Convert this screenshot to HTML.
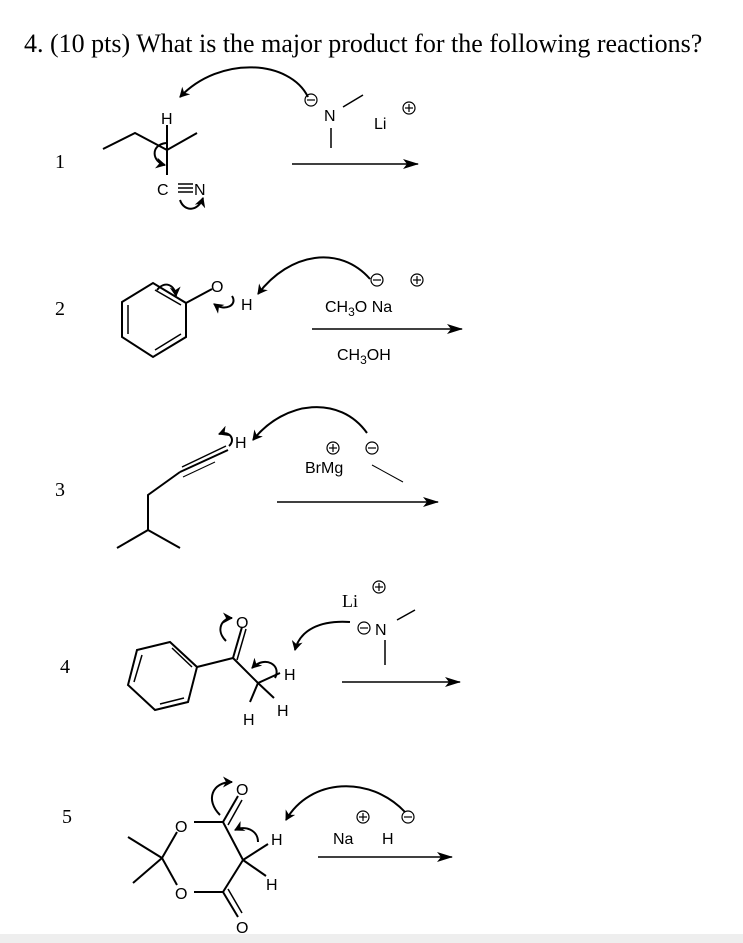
<!DOCTYPE html>
<html><head><meta charset="utf-8"><style>
html,body{margin:0;padding:0;background:#fff;}
svg{display:block;}
.s{font-family:"Liberation Sans",sans-serif;font-size:16px;}
.r{font-family:"Liberation Serif",serif;}
</style></head><body>
<svg width="743" height="943" viewBox="0 0 743 943" xmlns="http://www.w3.org/2000/svg">
<defs>
<marker id="ah" markerWidth="16" markerHeight="10" refX="15" refY="5" orient="auto" markerUnits="userSpaceOnUse">
<path d="M0,0 L16,5 L0,10 L4,5 Z" fill="#000"/></marker>
<marker id="ch" markerWidth="11" markerHeight="11" refX="9" refY="5.5" orient="auto" markerUnits="userSpaceOnUse">
<path d="M0,0 L10,5.5 L0,11 L3,5.5 Z" fill="#000"/></marker>
</defs>
<rect x="0" y="934" width="743" height="9" fill="#eeeeee"/>
<text x="24" y="52" class="r" font-size="26">4. (10 pts) What is the major product for the following reactions?</text>
<g class="r" font-size="20">
<text x="55" y="168">1</text><text x="55" y="315">2</text><text x="55" y="496">3</text><text x="60" y="673">4</text><text x="62" y="823">5</text>
</g>
<g stroke="#000" stroke-width="2" fill="none">
<!-- 1 -->
<polyline points="103,149 135,133 167,150 197,133"/>
<line x1="167" y1="150" x2="167" y2="125"/>
<line x1="167" y1="150" x2="167" y2="175"/>
<line x1="178" y1="184" x2="193" y2="184" stroke-width="1.5"/><line x1="178" y1="188" x2="193" y2="188" stroke-width="1.5"/><line x1="178" y1="192" x2="193" y2="192" stroke-width="1.5"/>
<path d="M308,97 C290,60 220,55 180,97" marker-end="url(#ch)"/>
<path d="M166,143 C150,145 152,162 165,165" marker-end="url(#ch)"/>
<path d="M180,200 C184,212 198,212 203,198" marker-end="url(#ch)"/>
<line x1="343" y1="107" x2="363" y2="95" stroke-width="1.5"/>
<line x1="331" y1="128" x2="331" y2="148" stroke-width="1.5"/>
<line x1="292" y1="164" x2="418" y2="164" stroke-width="1.5" marker-end="url(#ah)"/>
<!-- 2 -->
<polygon points="122,302 153,283 186,303 186,337 153,357 122,337"/>
<line x1="128" y1="305" x2="128" y2="334" stroke-width="1.5"/>
<line x1="155" y1="350" x2="181" y2="334" stroke-width="1.5"/>
<line x1="155" y1="290" x2="181" y2="305" stroke-width="1.5"/>
<line x1="186" y1="303" x2="212" y2="289"/>
<path d="M157,290 C165,280 175,285 176,296" marker-end="url(#ch)"/>
<path d="M232,296 C238,305 225,312 214,304" marker-end="url(#ch)"/>
<path d="M370,279 C340,245 290,252 258,294" marker-end="url(#ch)"/>
<line x1="312" y1="329" x2="462" y2="329" stroke-width="1.5" marker-end="url(#ah)"/>
<!-- 3 -->
<line x1="180" y1="472" x2="228" y2="450"/>
<line x1="182" y1="467" x2="226" y2="446" stroke-width="1.5"/>
<line x1="183" y1="477" x2="215" y2="462" stroke-width="1"/>
<polyline points="180,472 148,495 148,530 117,548"/>
<line x1="148" y1="530" x2="180" y2="548"/>
<path d="M229,446 C236,440 230,430 219,434" marker-end="url(#ch)"/>
<path d="M367,433 C340,395 285,400 253,440" marker-end="url(#ch)"/>
<line x1="372" y1="465" x2="403" y2="482" stroke-width="1"/>
<line x1="277" y1="502" x2="438" y2="502" stroke-width="1.5" marker-end="url(#ah)"/>
<!-- 4 -->
<polygon points="137,650 170,642 197,667 188,702 155,710 128,685"/>
<line x1="134" y1="682" x2="142" y2="655" stroke-width="1.5"/>
<line x1="160" y1="704" x2="184" y2="698" stroke-width="1.5"/>
<line x1="172" y1="648" x2="192" y2="667" stroke-width="1.5"/>
<polyline points="197,667 233,658 258,683 280,673"/>
<line x1="233" y1="658" x2="242" y2="627"/>
<line x1="237" y1="660" x2="246" y2="629" stroke-width="1.5"/>
<line x1="258" y1="683" x2="274" y2="698"/>
<line x1="258" y1="683" x2="250" y2="702"/>
<path d="M226,641 C215,630 222,618 232,618" marker-end="url(#ch)"/>
<path d="M275,678 C282,665 265,655 252,668" marker-end="url(#ch)"/>
<path d="M350,622 C320,620 300,630 295,650" marker-end="url(#ch)"/>
<line x1="397" y1="620" x2="415" y2="610" stroke-width="1.5"/>
<line x1="385" y1="640" x2="385" y2="665" stroke-width="1.5"/>
<line x1="342" y1="682" x2="460" y2="682" stroke-width="1.5" marker-end="url(#ah)"/>
<!-- 5 -->
<line x1="162" y1="858" x2="128" y2="837"/>
<line x1="162" y1="858" x2="133" y2="883"/>
<line x1="162" y1="858" x2="177" y2="832"/>
<line x1="162" y1="858" x2="177" y2="885"/>
<polyline points="194,822 223,822 243,860 223,892 194,892"/>
<line x1="223" y1="822" x2="238" y2="796"/>
<line x1="228" y1="825" x2="242" y2="800" stroke-width="1.5"/>
<line x1="223" y1="892" x2="238" y2="917"/>
<line x1="228" y1="889" x2="242" y2="913" stroke-width="1.5"/>
<line x1="243" y1="860" x2="268" y2="844"/>
<line x1="243" y1="860" x2="266" y2="876"/>
<path d="M220,815 C205,800 212,782 232,782" marker-end="url(#ch)"/>
<path d="M258,842 C258,830 245,825 235,830" marker-end="url(#ch)"/>
<path d="M405,812 C370,775 310,778 286,820" marker-end="url(#ch)"/>
<line x1="318" y1="857" x2="452" y2="857" stroke-width="1.5" marker-end="url(#ah)"/>
</g>
<g fill="none" stroke="#000" stroke-width="1.2">
<circle cx="311" cy="100" r="6"/><circle cx="409" cy="108" r="6"/>
<circle cx="377" cy="280" r="6"/><circle cx="417" cy="280" r="6"/>
<circle cx="333" cy="448" r="6"/><circle cx="372" cy="448" r="6"/>
<circle cx="379" cy="587" r="6"/><circle cx="364" cy="628" r="6"/>
<circle cx="363" cy="817" r="6"/><circle cx="408" cy="817" r="6"/>
</g>
<g stroke="#000" stroke-width="1.2">
<line x1="307" y1="100" x2="315" y2="100"/>
<line x1="405" y1="108" x2="413" y2="108"/><line x1="409" y1="104" x2="409" y2="112"/>
<line x1="373" y1="280" x2="381" y2="280"/>
<line x1="413" y1="280" x2="421" y2="280"/><line x1="417" y1="276" x2="417" y2="284"/>
<line x1="329" y1="448" x2="337" y2="448"/><line x1="333" y1="444" x2="333" y2="452"/>
<line x1="368" y1="448" x2="376" y2="448"/>
<line x1="375" y1="587" x2="383" y2="587"/><line x1="379" y1="583" x2="379" y2="591"/>
<line x1="360" y1="628" x2="368" y2="628"/>
<line x1="359" y1="817" x2="367" y2="817"/><line x1="363" y1="813" x2="363" y2="821"/>
<line x1="404" y1="817" x2="412" y2="817"/>
</g>
<g class="s">
<text x="161" y="124">H</text>
<text x="157" y="195">C</text><text x="194" y="195">N</text>
<text x="324" y="121">N</text>
<text x="374" y="129">Li</text>
<text x="211" y="292">O</text><text x="241" y="310">H</text>
<text x="325" y="312">CH<tspan font-size="12" dy="4">3</tspan><tspan dy="-4">O  Na</tspan></text>
<text x="337" y="360">CH<tspan font-size="12" dy="4">3</tspan><tspan dy="-4">OH</tspan></text>
<text x="235" y="448">H</text>
<text x="305" y="473">BrMg</text>
<text x="236" y="628">O</text>
<text x="284" y="680">H</text><text x="277" y="716">H</text><text x="243" y="725">H</text>
<text x="375" y="635">N</text>
<text x="175" y="832">O</text><text x="175" y="899">O</text>
<text x="236" y="795">O</text><text x="236" y="933">O</text>
<text x="271" y="845">H</text><text x="266" y="890">H</text>
<text x="333" y="844">Na</text><text x="382" y="844">H</text>
</g>
<text x="342" y="607" class="r" font-size="18">Li</text>
</svg>
</body></html>
